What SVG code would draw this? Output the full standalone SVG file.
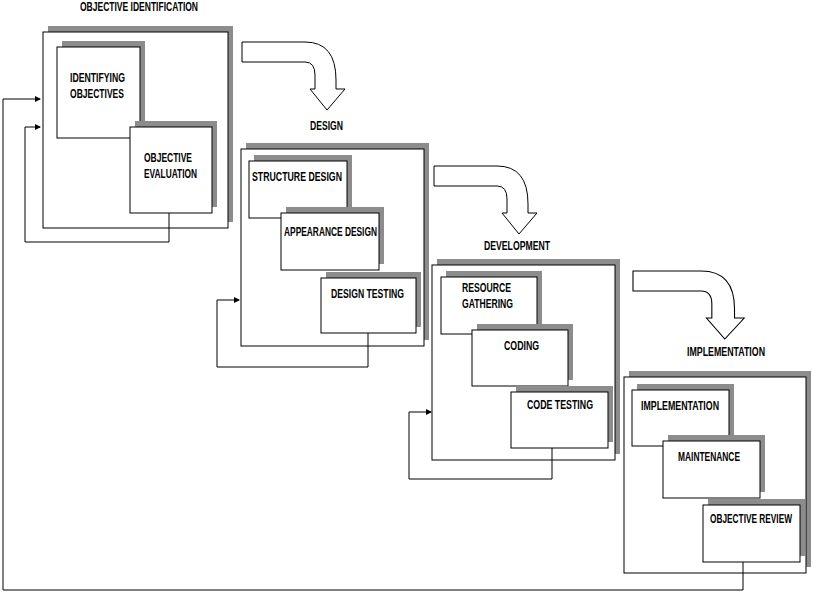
<svg xmlns="http://www.w3.org/2000/svg" width="813" height="593" viewBox="0 0 813 593">
<style>
.sh{fill:#8c8c8c}
.bx{fill:#fff;stroke:#000;stroke-width:1}
.t{font-family:"Liberation Sans",Arial,sans-serif;font-weight:bold;font-size:12px;fill:#000}
.ln{fill:none;stroke:#000;stroke-width:1}
.ar{fill:#fff;stroke:#000;stroke-width:1}
</style>
<defs>
<marker id="m" markerWidth="6" markerHeight="6" refX="5" refY="3" orient="auto" markerUnits="userSpaceOnUse"><path d="M0,0 L6,3 L0,6 Z" fill="#000"/></marker>
<path id="ca" d="M242,42 H305 Q336,42 336,80 V89 H345 L327,110 L310,89 H315 V75 Q315,62 305,62 H242 Z"/>
</defs>
<rect width="813" height="593" fill="#fff"/>
<g id="stage1">
<rect class="sh" x="48" y="26" width="185" height="196"/><rect class="bx" x="43" y="32" width="185" height="196"/>
<text class="t" x="80" y="11" textLength="118" lengthAdjust="spacingAndGlyphs">OBJECTIVE IDENTIFICATION</text>
</g>
<g id="identifying">
<rect class="sh" x="62" y="41" width="83" height="91"/><rect class="bx" x="57" y="47" width="83" height="91"/>
<text class="t" x="70" y="82" textLength="55" lengthAdjust="spacingAndGlyphs">IDENTIFYING</text>
<text class="t" x="70" y="98" textLength="54" lengthAdjust="spacingAndGlyphs">OBJECTIVES</text>
</g>
<g id="evaluation">
<rect class="sh" x="135" y="121" width="82" height="86"/><rect class="bx" x="130" y="127" width="82" height="86"/>
<text class="t" x="144" y="162" textLength="48" lengthAdjust="spacingAndGlyphs">OBJECTIVE</text>
<text class="t" x="144" y="178" textLength="53" lengthAdjust="spacingAndGlyphs">EVALUATION</text>
</g>
<g id="stage2">
<rect class="sh" x="246" y="143" width="183" height="197"/><rect class="bx" x="241" y="149" width="183" height="197"/>
<text class="t" x="310" y="130" textLength="33" lengthAdjust="spacingAndGlyphs">DESIGN</text>
</g>
<g id="structure">
<rect class="sh" x="254" y="155" width="98" height="57"/><rect class="bx" x="249" y="161" width="98" height="57"/>
<text class="t" x="252" y="181" textLength="90" lengthAdjust="spacingAndGlyphs">STRUCTURE DESIGN</text>
</g>
<g id="appearance">
<rect class="sh" x="286" y="207" width="98" height="57"/><rect class="bx" x="281" y="213" width="98" height="57"/>
<text class="t" x="284" y="236" textLength="93" lengthAdjust="spacingAndGlyphs">APPEARANCE DESIGN</text>
</g>
<g id="designtesting">
<rect class="sh" x="326" y="272" width="95" height="55"/><rect class="bx" x="321" y="278" width="95" height="55"/>
<text class="t" x="331" y="298" textLength="73" lengthAdjust="spacingAndGlyphs">DESIGN TESTING</text>
</g>
<g id="stage3">
<rect class="sh" x="437" y="259" width="183" height="195"/><rect class="bx" x="432" y="265" width="183" height="195"/>
<text class="t" x="484" y="250" textLength="66" lengthAdjust="spacingAndGlyphs">DEVELOPMENT</text>
</g>
<g id="resource">
<rect class="sh" x="446" y="271" width="96" height="57"/><rect class="bx" x="441" y="277" width="96" height="57"/>
<text class="t" x="462" y="292" textLength="49" lengthAdjust="spacingAndGlyphs">RESOURCE</text>
<text class="t" x="462" y="308" textLength="51" lengthAdjust="spacingAndGlyphs">GATHERING</text>
</g>
<g id="coding">
<rect class="sh" x="477" y="324" width="96" height="56"/><rect class="bx" x="472" y="330" width="96" height="56"/>
<text class="t" x="504" y="350" textLength="35" lengthAdjust="spacingAndGlyphs">CODING</text>
</g>
<g id="codetesting">
<rect class="sh" x="516" y="386" width="97" height="56"/><rect class="bx" x="511" y="392" width="97" height="56"/>
<text class="t" x="527" y="409" textLength="66" lengthAdjust="spacingAndGlyphs">CODE TESTING</text>
</g>
<g id="stage4">
<rect class="sh" x="629" y="371" width="182" height="196"/><rect class="bx" x="624" y="377" width="182" height="196"/>
<text class="t" x="687" y="356" textLength="78" lengthAdjust="spacingAndGlyphs">IMPLEMENTATION</text>
</g>
<g id="implementation">
<rect class="sh" x="637" y="384" width="97" height="56"/><rect class="bx" x="632" y="390" width="97" height="56"/>
<text class="t" x="641" y="410" textLength="78" lengthAdjust="spacingAndGlyphs">IMPLEMENTATION</text>
</g>
<g id="maintenance">
<rect class="sh" x="668" y="435" width="97" height="57"/><rect class="bx" x="663" y="441" width="97" height="57"/>
<text class="t" x="678" y="461" textLength="62" lengthAdjust="spacingAndGlyphs">MAINTENANCE</text>
</g>
<g id="review">
<rect class="sh" x="708" y="499" width="97" height="57"/><rect class="bx" x="703" y="505" width="97" height="57"/>
<text class="t" x="710" y="523" textLength="82" lengthAdjust="spacingAndGlyphs">OBJECTIVE REVIEW</text>
</g>
<g id="connectors">
<use href="#ca" class="ar"/>
<use href="#ca" class="ar" transform="translate(192,124)"/>
<use href="#ca" class="ar" transform="translate(633,271) scale(1.08,1) translate(-242,-42)"/>
<path class="ln" d="M169,213 V242 H25 V127 H40" marker-end="url(#m)"/>
<path class="ln" d="M368,333 V367 H217 V300 H239" marker-end="url(#m)"/>
<path class="ln" d="M552,448 V479 H409 V412 H431" marker-end="url(#m)"/>
<path class="ln" d="M743,562 V590 H3 V99 H40" marker-end="url(#m)"/>
</g>
</svg>
